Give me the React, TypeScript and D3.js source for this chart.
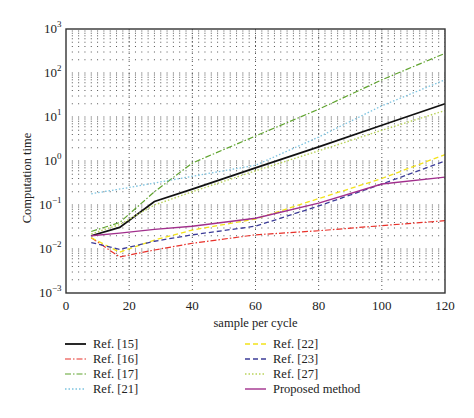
import React from 'react'
import * as d3 from 'd3'

// samples per cycle
const samples = [8, 17, 28, 40, 60, 80, 100, 120]
const samples21 = [8, 20, 40, 60, 80, 100, 120]

// computation time for each method
const ref15 = [0.02, 0.031, 0.12, 0.23, 0.7, 2.1, 6.5, 20]
const ref16 = [0.018, 0.0066, 0.0095, 0.0135, 0.021, 0.026, 0.034, 0.044]
const ref17 = [0.025, 0.04, 0.2, 0.9, 3.7, 15, 70, 280]
const ref21 = [0.18, 0.25, 0.45, 0.8, 3.5, 18, 70]
const ref22 = [0.018, 0.0085, 0.016, 0.027, 0.048, 0.14, 0.4, 1.4]
const ref23 = [0.014, 0.0098, 0.015, 0.021, 0.033, 0.095, 0.3, 1.0]
const ref27 = [0.022, 0.036, 0.1, 0.2, 0.6, 1.7, 5, 14]
const proposed = [0.02, 0.023, 0.028, 0.033, 0.05, 0.11, 0.3, 0.43]

const xTicks = [0, 20, 40, 60, 80, 100, 120]
const yExps = [-3, -2, -1, 0, 1, 2, 3]

const series = [
  { name: 'Ref. [15]', x: samples, y: ref15, color: '#111111', dash: '', width: 1.8 },
  { name: 'Ref. [16]', x: samples, y: ref16, color: '#e8312a', dash: '6,2,1.5,2', width: 1.2 },
  { name: 'Ref. [17]', x: samples, y: ref17, color: '#5fa32e', dash: '6,2,1.5,2', width: 1.2 },
  { name: 'Ref. [21]', x: samples21, y: ref21, color: '#7cc3e0', dash: '1.5,2', width: 1.3 },
  { name: 'Ref. [22]', x: samples, y: ref22, color: '#f2e21a', dash: '5,3', width: 1.3 },
  { name: 'Ref. [23]', x: samples, y: ref23, color: '#3c3c98', dash: '5,3', width: 1.3 },
  { name: 'Ref. [27]', x: samples, y: ref27, color: '#b9d35a', dash: '1.5,2', width: 1.4 },
  { name: 'Proposed method', x: samples, y: proposed, color: '#a12f8c', dash: '', width: 1.4 },
]

const W = 474
const H = 418
const m = { left: 66, top: 29, right: 445, bottom: 293 }
const font = '"Liberation Serif", "DejaVu Serif", serif'

export default function App() {
  const x = d3.scaleLinear().domain([0, 120]).range([m.left, m.right])
  const y = d3.scaleLog().domain([1e-3, 1e3]).range([m.bottom, m.top])

  const line = d3
    .line<[number, number]>()
    .x((d) => x(d[0]))
    .y((d) => y(d[1]))

  // grid: horizontal dotted rows, dots at every 2 units of x
  const step = x(2) - x(0)
  const rowsY: number[] = []
  yExps.slice(0, -1).forEach((e) => {
    for (let k = 1; k <= 9; k++) rowsY.push(k * Math.pow(10, e))
  })
  const majorX = xTicks.slice(1, -1)

  const legendRows = [344, 359, 374, 389]

  return (
    <svg width={W} height={H} style={{ position: 'absolute', left: 0, top: 0, background: '#fff' }} fontFamily={font}>
      {/* grid */}
      <g stroke="#555" strokeWidth={1}>
        {rowsY.slice(1).map((v, i) => (
          <line
            key={'hy' + i}
            x1={m.left + step - 0.5}
            x2={m.right}
            y1={y(v)}
            y2={y(v)}
            strokeDasharray={`1,${step - 1}`}
          />
        ))}
        {majorX.map((v) => (
          <line key={'vx' + v} x1={x(v)} x2={x(v)} y1={m.top} y2={m.bottom} strokeDasharray="1,3" />
        ))}
      </g>

      {/* series */}
      {series.map((s) => (
        <path
          key={s.name}
          d={line(s.x.map((v, i) => [v, s.y[i]] as [number, number])) || ''}
          fill="none"
          stroke={s.color}
          strokeWidth={s.width}
          strokeDasharray={s.dash}
        />
      ))}

      {/* frame */}
      <rect x={m.left} y={m.top} width={m.right - m.left} height={m.bottom - m.top} fill="none" stroke="#333" strokeWidth={1.4} />

      {/* x ticks */}
      {xTicks.map((t) => (
        <text key={'xt' + t} x={x(t)} y={310} fontSize={13} textAnchor="middle" fill="#222">
          {t}
        </text>
      ))}
      {/* y ticks */}
      {yExps.map((e) => (
        <text key={'yt' + e} x={e < 0 ? 39 : 44} y={y(Math.pow(10, e)) + 4} fontSize={13} fill="#222">
          10
          <tspan dy={-6} fontSize={9}>
            {e < 0 ? '\u2212' + Math.abs(e) : e}
          </tspan>
        </text>
      ))}

      <text x={(m.left + m.right) / 2} y={327} fontSize={12.5} textAnchor="middle" fill="#222">
        sample per cycle
      </text>
      <text transform={`translate(31,178) rotate(-90)`} fontSize={12.5} textAnchor="middle" fill="#222">
        Computation time
      </text>

      {/* legend */}
      {series.map((s, i) => {
        const col = Math.floor(i / 4)
        const row = i % 4
        const lx = col === 0 ? 65 : 245
        const ly = legendRows[row]
        return (
          <g key={'lg' + s.name}>
            <line x1={lx} x2={lx + 21} y1={ly} y2={ly} stroke={s.color} strokeWidth={s.width} strokeDasharray={s.dash} />
            <text x={lx + 28} y={ly + 4} fontSize={12.5} fill="#222">
              {s.name}
            </text>
          </g>
        )
      })}
    </svg>
  )
}
